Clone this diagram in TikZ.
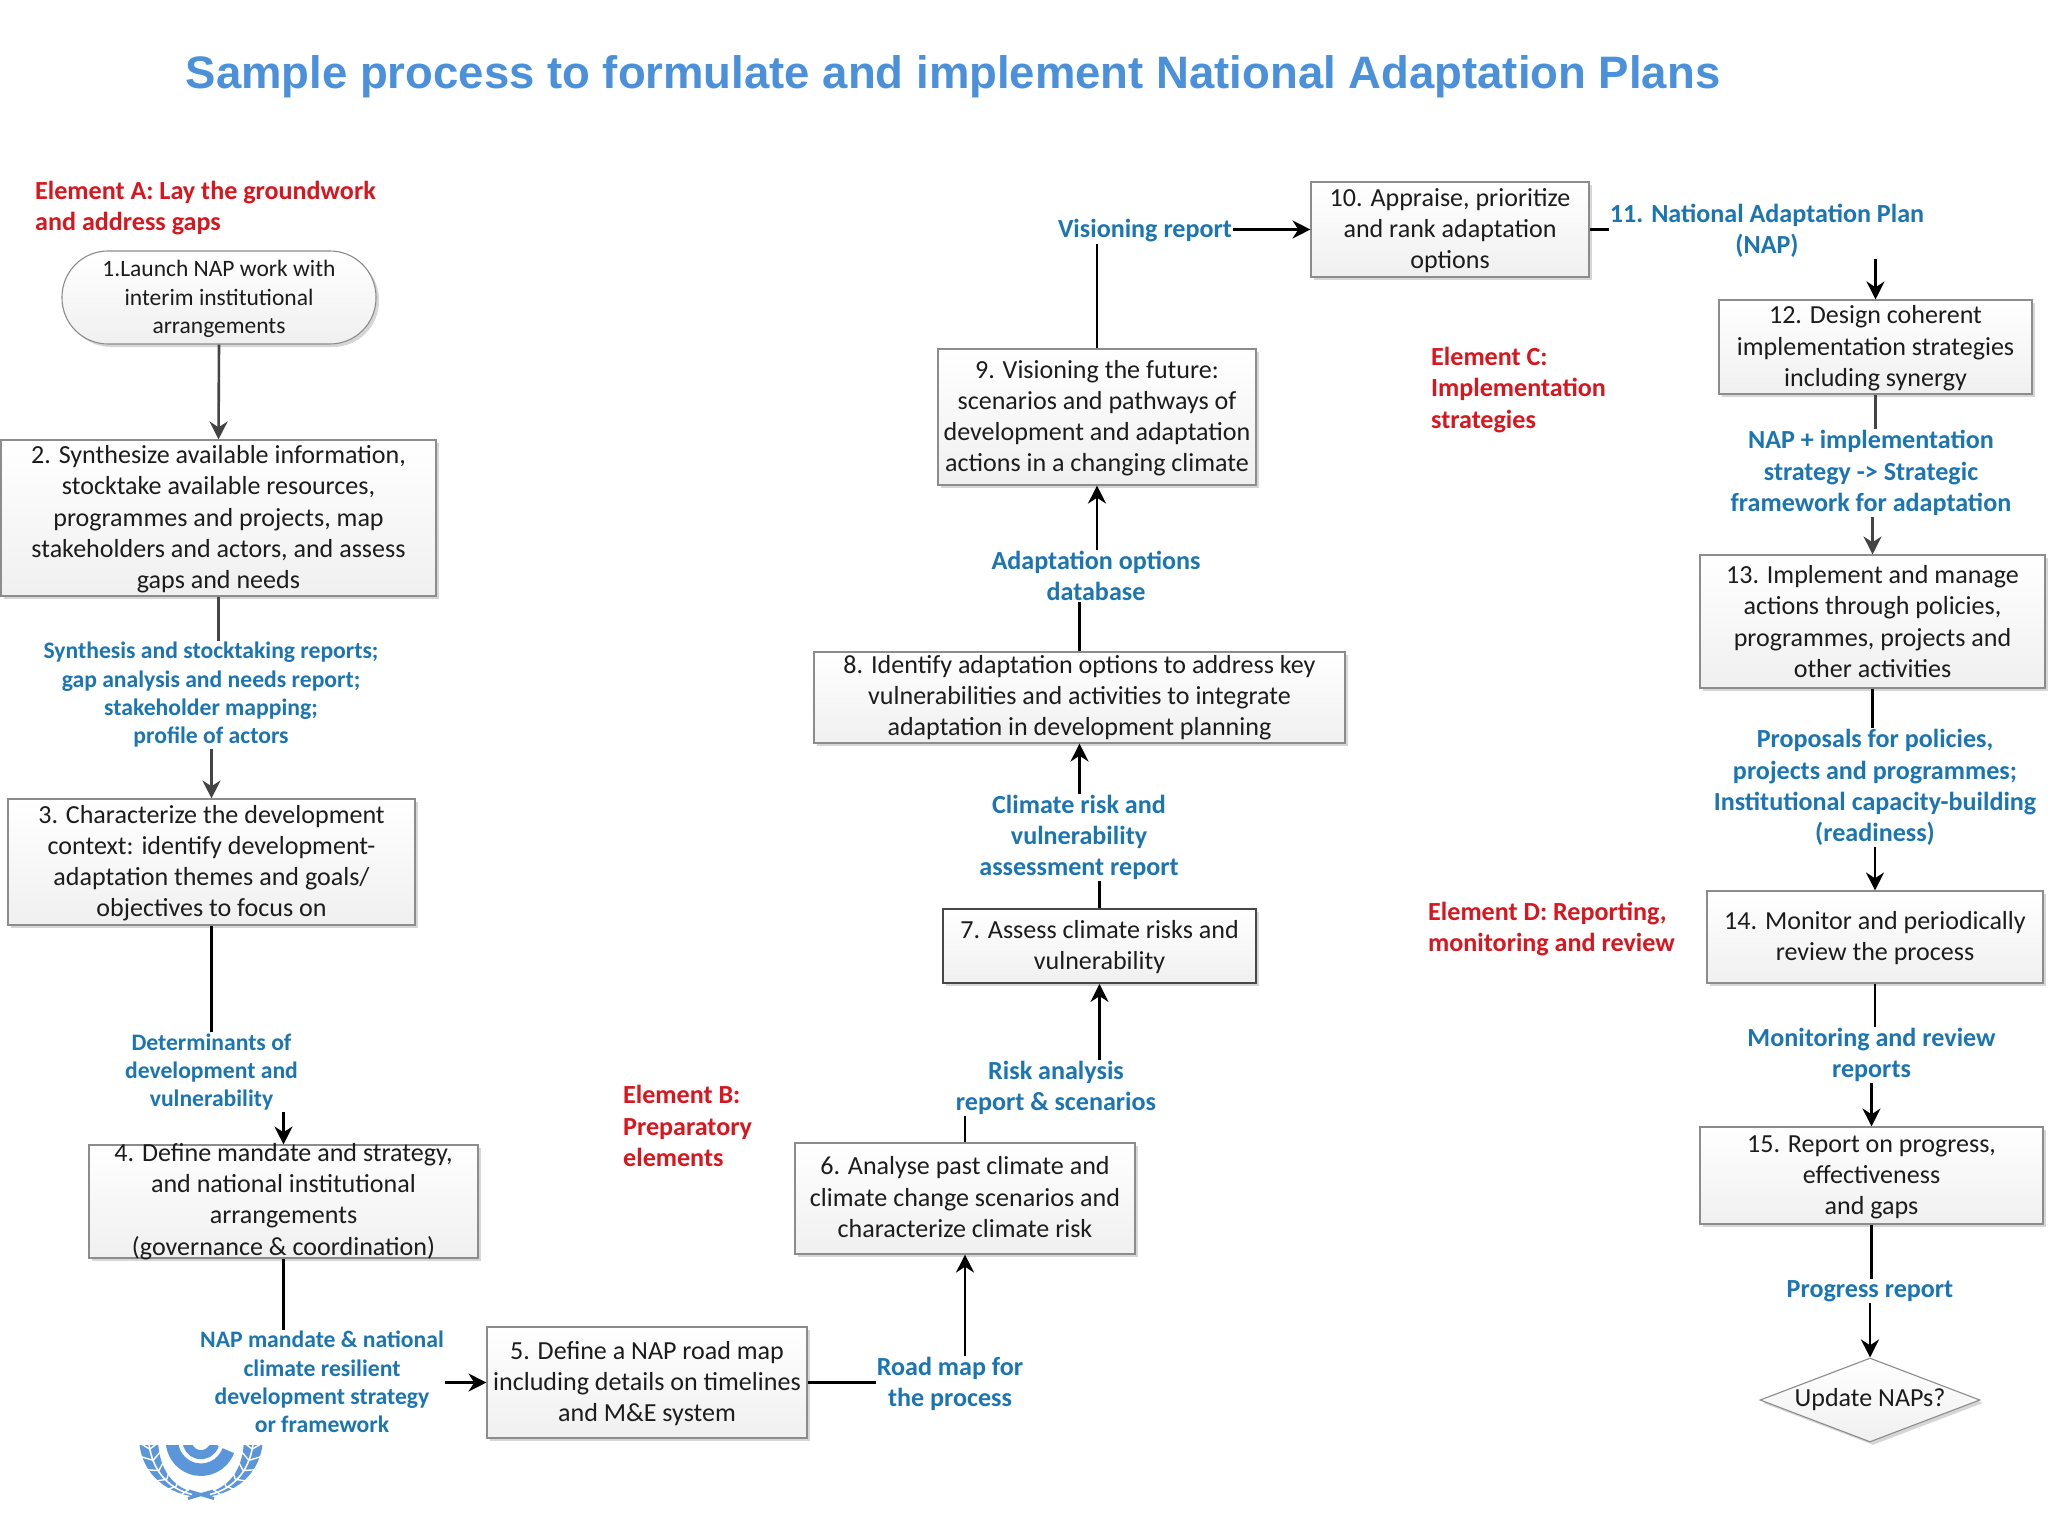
\documentclass[tikz,border=0pt]{standalone}
\usepackage{fontspec}
\setmainfont{Carlito}
\newfontfamily\titlefont{Liberation Sans}
\usetikzlibrary{arrows.meta,shapes.geometric,shadows}
\definecolor{boxline}{HTML}{8C8C8C}
\definecolor{labelblue}{HTML}{1B75B3}
\definecolor{elemred}{HTML}{D9161E}
\definecolor{titleblue}{HTML}{4A90DA}
\definecolor{logoblue}{HTML}{5B96DA}
\definecolor{inkdark}{HTML}{1C1C1C}
\definecolor{greyline}{HTML}{444444}
\newcommand\topgap{\rule{0pt}{20.5pt}}
\tikzset{
  boxbase/.style={draw=boxline,line width=1.1pt,top color=white,bottom color=black!6,text=inkdark,align=center,inner sep=0pt,
    drop shadow={shadow xshift=3pt,shadow yshift=-3pt,opacity=0.16,fill=black}},
  procbox/.style={boxbase,rectangle,font=\fontsize{26.05}{31.3}\selectfont},
  smallbox/.style={boxbase,rectangle,font=\fontsize{23.5}{28.3}\selectfont,rounded corners=46pt},
  keybox/.style={procbox,draw=black!72,line width=1.9pt},
  decisionbox/.style={boxbase,diamond,shape aspect=2.62,font=\fontsize{26.05}{31.3}\selectfont},
  bluetext/.style={text=labelblue,align=center,inner sep=1pt,font=\bfseries\fontsize{26.1}{31.3}\selectfont},
  bluesmall/.style={text=labelblue,align=center,inner sep=1pt,font=\bfseries\fontsize{23.65}{28.3}\selectfont},
  elemtext/.style={text=elemred,align=left,anchor=west,inner sep=0pt,font=\bfseries\fontsize{26.1}{31.3}\selectfont},
  link/.style={line width=2.6pt,draw=black},
  linkarrow/.style={link,-{Stealth[length=18pt,width=18pt]}},
  greylink/.style={line width=2.6pt,draw=greyline},
  greyarrow/.style={greylink,-{Stealth[length=18pt,width=18pt]}},
}
\begin{document}
\begin{tikzpicture}[x=1pt,y=-1pt]
\useasboundingbox (0,0) rectangle (2048,1536);
\fill[white] (0,0) rectangle (2048,1536);

\node[text=titleblue,font=\titlefont\bfseries\fontsize{45.5}{54}\selectfont,inner sep=0pt] (title) at (953,77) {Sample process to formulate and implement National Adaptation Plans};

\node[elemtext] (elemA) at (35,208) {Element A: Lay the groundwork\\and address gaps};
\node[elemtext] (elemB) at (623,1126) {Element B:\\Preparatory\\elements};
\node[elemtext] (elemC) at (1431,390) {Element C:\\Implementation\\strategies};
\node[elemtext] (elemD) at (1428,929) {Element D: Reporting,\\monitoring and review};

\node[smallbox,minimum width=314pt,minimum height=93pt] (b1) at (219,297.5) {\rule{0pt}{19.5pt}1.Launch NAP work with\\interim institutional\\arrangements};
\node[procbox,minimum width=435pt,minimum height=156pt] (b2) at (218.5,518) {\topgap 2. Synthesize available information,\\stocktake available resources,\\programmes and projects, map\\stakeholders and actors, and assess\\gaps and needs};
\node[procbox,minimum width=407pt,minimum height=126pt] (b3) at (211.5,862) {\topgap 3. Characterize the development\\context: identify development-\\adaptation themes and goals/\\objectives to focus on};
\node[procbox,minimum width=389pt,minimum height=113pt] (b4) at (283.5,1201.5) {\raisebox{-6.5pt}[50pt][50pt]{\begin{tabular}{@{}c@{}}4. Define mandate and strategy,\\and national institutional\\arrangements\\(governance \& coordination)\end{tabular}}};
\node[procbox,minimum width=320pt,minimum height=111pt] (b5) at (647,1382.5) {\topgap 5. Define a NAP road map\\including details on timelines\\and M\&E system};
\node[procbox,minimum width=340pt,minimum height=111pt] (b6) at (965,1198.5) {6. Analyse past climate and\\climate change scenarios and\\characterize climate risk\rule[-3pt]{0pt}{0pt}};
\node[keybox,minimum width=313pt,minimum height=74pt] (b7) at (1099.5,946) {\topgap 7. Assess climate risks and\\vulnerability};
\node[procbox,minimum width=531pt,minimum height=91pt] (b8) at (1079.5,697.5) {8. Identify adaptation options to address key\\vulnerabilities and activities to integrate\\adaptation in development planning};
\node[procbox,minimum width=318pt,minimum height=136pt] (b9) at (1097,417) {\topgap 9. Visioning the future:\\scenarios and pathways of\\development and adaptation\\actions in a changing climate};
\node[procbox,minimum width=278pt,minimum height=95pt] (b10) at (1450,229.5) {\topgap 10. Appraise, prioritize\\and rank adaptation\\options};
\node[procbox,minimum width=313pt,minimum height=94pt] (b12) at (1875.5,347) {\topgap 12. Design coherent\\implementation strategies\\including synergy};
\node[procbox,minimum width=345pt,minimum height=133pt] (b13) at (1872.5,621.5) {13. Implement and manage\\actions through policies,\\programmes, projects and\\other activities};
\node[procbox,minimum width=336pt,minimum height=92pt] (b14) at (1875,937) {\topgap 14. Monitor and periodically\\review the process};
\node[procbox,minimum width=343pt,minimum height=97pt] (b15) at (1871.5,1175.5) {\topgap 15. Report on progress,\\effectiveness\\and gaps};
\node[decisionbox,minimum width=220pt,minimum height=84pt] (b16) at (1870,1400) {Update NAPs?};

\node[bluesmall] (l2) at (211,695) {Synthesis and stocktaking reports;\\gap analysis and needs report;\\stakeholder mapping;\\profile of actors};
\node[bluesmall] (l3) at (211.5,1072) {Determinants of\\development and\\vulnerability};
\node[bluesmall] (l4) at (322,1382) {NAP mandate \& national\\climate resilient\\development strategy\\or framework};
\node[bluetext] (l5) at (950,1384) {Road map for\\the process};
\node[bluetext] (l6) at (1056,1088) {Risk analysis\\report \& scenarios};
\node[bluetext] (l7) at (1079,837.5) {Climate risk and\\vulnerability\\assessment report};
\node[bluetext] (l8) at (1096,576) {Adaptation options\\database};
\node[bluetext] (l9) at (1145,231) {Visioning report};
\node[bluetext] (l11) at (1767,231) {11. National Adaptation Plan\\(NAP)};
\node[bluetext] (l12) at (1871,473) {NAP + implementation\\strategy -> Strategic\\framework for adaptation};
\node[bluetext] (l13) at (1875,787.5) {Proposals for policies,\\projects and programmes;\\Institutional capacity-building\\(readiness)};
\node[bluetext] (l14) at (1871.5,1055) {Monitoring and review\\reports};
\node[bluetext] (l15) at (1870,1291) {Progress report};

\draw[greyarrow] (b1.south) -- (b2.north);
\draw[greylink] (b2.south) -- (b2.south |- l2.north);
\draw[greyarrow] (b3.north |- l2.south) -- (b3.north);
\draw[link] (b3.south) -- (b3.south |- l3.north);
\draw[linkarrow] (b4.north |- l3.south) -- (b4.north);
\draw[link] (b4.south) -- (b4.south |- l4.north);
\draw[linkarrow] (l4.east |- b5.west) -- (b5.west);
\draw[link] (b5.east) -- (b5.east -| l5.west);
\draw[linkarrow] (b6.south |- l5.north) -- (b6.south);
\draw[link] (b6.north) -- (b6.north |- l6.south);
\draw[linkarrow] (b7.south |- l6.north) -- (b7.south);
\draw[link] (b7.north) -- (b7.north |- l7.south);
\draw[linkarrow] (b8.south |- l7.north) -- (b8.south);
\draw[link] (b8.north) -- (b8.north |- l8.south);
\draw[linkarrow] (b9.south |- l8.north) -- (b9.south);
\draw[link] (b9.north) -- (b9.north |- l9.south);
\draw[linkarrow] (l9.east |- b10.west) -- (b10.west);
\draw[link] (b10.east) -- (b10.east -| l11.west);
\draw[linkarrow] (b12.north |- l11.south) -- (b12.north);
\draw[greylink] (b12.south) -- (b12.south |- l12.north);
\draw[greyarrow] (b13.north |- l12.south) -- (b13.north);
\draw[link] (b13.south) -- (b13.south |- l13.north);
\draw[linkarrow] (b14.north |- l13.south) -- (b14.north);
\draw[link] (b14.south) -- (b14.south |- l14.north);
\draw[linkarrow] (b15.north |- l14.south) -- (b15.north);
\draw[link] (b15.south) -- (b15.south |- l15.north);
\draw[linkarrow] (b16.north |- l15.south) -- (b16.north);

% emblem, cut off at its top edge
\begin{scope}
\clip (130,1445) rectangle (272,1505);
\draw[logoblue,line width=12.5pt] (201,1440.7) ++(20:29) arc[start angle=20,end angle=180,radius=29];
\draw[logoblue,line width=9pt] (201,1440.7) ++(15:14) arc[start angle=15,end angle=180,radius=14];
\foreach \s in {1,-1}{
  \begin{scope}[shift={(201,0)},xscale=\s]
    \fill[logoblue] (-62,1440) .. controls (-60,1470) and (-40,1492) .. (-5,1497) -- (-5,1493) .. controls (-28,1488) and (-42,1470) .. (-43,1440) -- cycle;
    \draw[logoblue,line width=3pt] (-12,1491) -- (13,1498.5);
    \draw[white,line width=1.6pt] (-52.5,1440) .. controls (-50,1468) and (-35,1488) .. (-9,1494.5);
    \foreach \a in {105,118,131,144,157,170}{
      \draw[white,line width=1.4pt] ({52*cos(\a)},{1440+52*sin(\a)}) -- ({65*cos(\a+9)},{1440+65*sin(\a+9)});
      \draw[white,line width=1.4pt] ({52*cos(\a)},{1440+52*sin(\a)}) -- ({40*cos(\a+9)},{1440+40*sin(\a+9)});
    }
  \end{scope}
}
\end{scope}
\end{tikzpicture}
\end{document}
